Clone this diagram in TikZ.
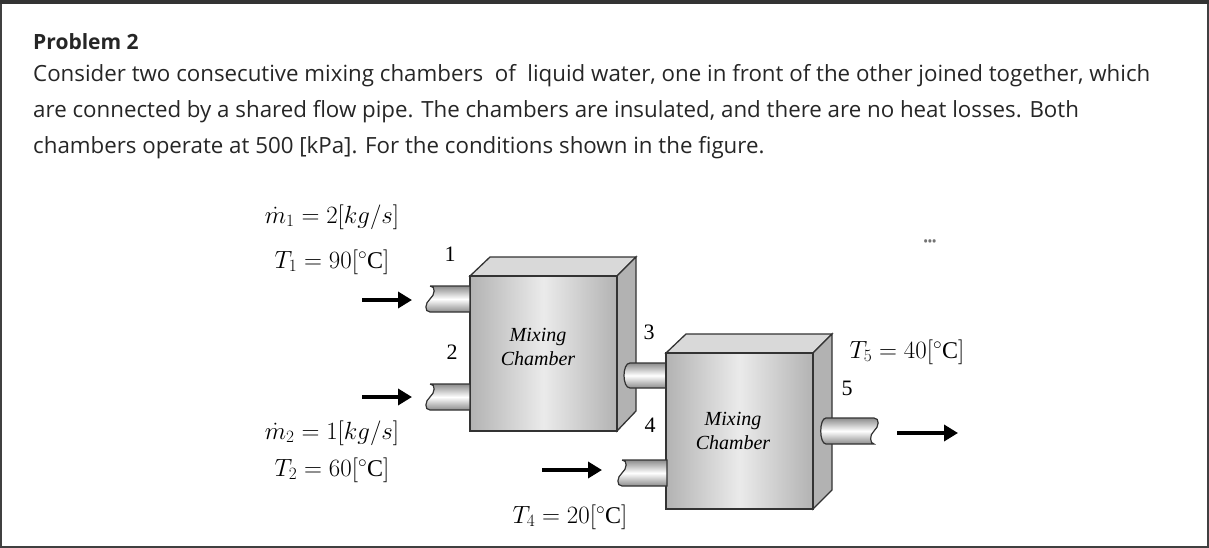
\documentclass[tikz,border=0pt]{standalone}
\usepackage{fontspec}
\setmainfont{Open Sans}
\newfontfamily\serifm{Liberation Serif}
\usetikzlibrary{arrows.meta}
\newcommand{\dgc}{$^\circ${\serifm C}}
\begin{document}
\begin{tikzpicture}[x=1pt,y=-1pt,
  body/.style={anchor=west,inner sep=0,font=\fontsize{22.3}{26}\selectfont,text=black!85},
  mlab/.style={anchor=center,inner sep=0,font=\fontsize{24}{28}\selectfont},
  num/.style={anchor=center,inner sep=0,font=\serifm\fontsize{22}{24}\selectfont},
  flow/.style={line width=4.5pt,-{Triangle[length=14pt,width=16pt]}},
  pipe/.style={draw=black!80,line width=1.2pt,top color=black!45,bottom color=black!45,middle color=white},
  face/.style={draw=black!80,line width=1.3pt,left color=black!30,right color=black!30,middle color=black!8},
  side/.style={draw=black!80,line width=1.3pt,fill=black!30},
  topf/.style={draw=black!80,line width=1.3pt,fill=black!15}]
\useasboundingbox (0,0) rectangle (1209,548);
\fill[white] (0,0) rectangle (1209,548);
\draw[black!75,line width=1.5pt] (1,3) rectangle (1208,547);
\fill[black!80] (0,0) rectangle (1209,4);
\node[body,font=\bfseries\fontsize{21}{24}\selectfont] (title) at (33,42) {Problem 2};
\node[body] (l1) at (33,76) {Consider two consecutive mixing chambers\ \ of\ \ liquid water, one in front of the other joined together, which};
\node[body] (l2) at (33,112) {are connected by a shared flow pipe. The chambers are insulated, and there are no heat losses. Both};
\node[body] (l3) at (33,148) {chambers operate at 500 [kPa]. For the conditions shown in the figure.};
% chamber 1
\draw[topf] (470,276) -- (490,257) -- (636,257) -- (617,276) -- cycle;
\draw[side] (617,276) -- (636,257) -- (636,411) -- (617,431) -- cycle;
% pipe 3
\draw[pipe] (666,363) -- (630,363) .. controls (622,363) and (622,388) .. (630,388) -- (666,388) -- cycle;
% chamber 2
\draw[topf] (666,353) -- (686,334) -- (832,334) -- (813,353) -- cycle;
\draw[side] (813,353) -- (832,334) -- (832,490) -- (813,509) -- cycle;
\node[face,minimum width=147pt,minimum height=156pt,inner sep=0] (c2) at (739.5,431) {};
\node[align=center,font=\serifm\itshape\fontsize{20}{24}\selectfont] (c2t) at (733,431) {Mixing\\Chamber};
\node[face,minimum width=147pt,minimum height=155pt,inner sep=0] (c1) at (543.5,353.5) {};
\node[align=center,font=\serifm\itshape\fontsize{20}{24}\selectfont] (c1t) at (538,347) {Mixing\\Chamber};
% pipes with wavy ends
\foreach \px/\py/\pl in {430/286/40,430/384/40,622/460/45}{
  \draw[pipe] (\px,\py) -- (\px+\pl,\py) -- (\px+\pl,\py+26) -- (\px,\py+26)
    .. controls (\px-6,\py+26) and (\px-5,\py+17) .. (\px,\py+13)
    .. controls (\px+5,\py+9) and (\px+6,\py) .. (\px,\py);
}
\draw[pipe] (826,418) -- (874,418) .. controls (880,418) and (879,427) .. (874,431) .. controls (869,435) and (870,444) .. (874,444) -- (826,444) .. controls (819,444) and (819,418) .. (826,418) -- cycle;
% arrows
\coordinate (a1s) at (362,300); \coordinate (a1e) at (412,300);
\coordinate (a2s) at (362,397); \coordinate (a2e) at (412,397);
\coordinate (a4s) at (542,470); \coordinate (a4e) at (602,470);
\coordinate (a5s) at (897,433); \coordinate (a5e) at (958,433);
\draw[flow] (a1s) -- (a1e);
\draw[flow] (a2s) -- (a2e);
\draw[flow] (a4s) -- (a4e);
\draw[flow] (a5s) -- (a5e);
% numbers
\node[num] (n1) at (450,254) {1};
\node[num] (n2) at (452,352) {2};
\node[num] (n3) at (649,332) {3};
\node[num] (n4) at (650,425) {4};
\node[num] (n5) at (847,388) {5};
% labels
\node[mlab] (m1) at (332,217) {$\dot m_1 = 2[kg/s]$};
\node[mlab] (t1) at (332,262) {$T_1 = 90[$\dgc$]$};
\node[mlab] (m2) at (332,433) {$\dot m_2 = 1[kg/s]$};
\node[mlab] (t2) at (332,470) {$T_2 = 60[$\dgc$]$};
\node[mlab] (t4) at (570,517) {$T_4 = 20[$\dgc$]$};
\node[mlab] (t5) at (907,352) {$T_5 = 40[$\dgc$]$};
\node[inner sep=0,text=black!55,font=\fontsize{14}{14}\selectfont] (dots) at (930,243) {\textbullet\kern-1pt\textbullet\kern-1pt\textbullet};
\end{tikzpicture}
\end{document}
